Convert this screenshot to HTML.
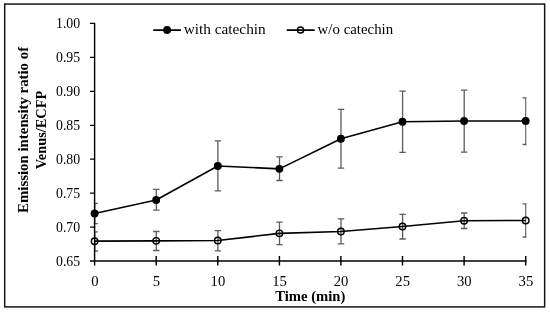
<!DOCTYPE html>
<html lang="en"><head><meta charset="utf-8"><title>Emission intensity ratio of Venus/ECFP</title>
<style>
html,body{margin:0;padding:0;background:#fff;}
body{width:550px;height:313px;overflow:hidden;}
svg{display:block;font-family:"Liberation Serif","DejaVu Serif",serif;font-size:14.67px;fill:#000;}
.b{font-weight:bold;}
</style></head><body>
<svg width="550" height="313" viewBox="0 0 550 313">
<rect x="0" y="0" width="550" height="313" fill="#fff"/>
<rect x="4.7" y="4.05" width="539.95" height="302.85" fill="none" stroke="#151515" stroke-width="1.5"/>
<defs><clipPath id="pa"><rect x="93.9" y="0" width="432.6" height="313"/></clipPath></defs>

<g stroke="#5c5c5c" stroke-width="1.3" fill="none" clip-path="url(#pa)">
<path d="M94.7 203.4V223.6M91.5 203.4H97.9M91.5 223.6H97.9"/>
<path d="M156.3 189.4V210.2M153.1 189.4H159.5M153.1 210.2H159.5"/>
<path d="M217.9 140.8V190.8M214.7 140.8H221.1M214.7 190.8H221.1"/>
<path d="M279.5 156.8V180.5M276.3 156.8H282.7M276.3 180.5H282.7"/>
<path d="M341.0 109.3V168.2M337.8 109.3H344.2M337.8 168.2H344.2"/>
<path d="M402.6 91.2V152.4M399.4 91.2H405.8M399.4 152.4H405.8"/>
<path d="M464.2 90.1V152.2M461.0 90.1H467.4M461.0 152.2H467.4"/>
<path d="M525.8 97.8V144.5M522.6 97.8H529.0M522.6 144.5H529.0"/>
<path d="M94.7 231.8V251.0M91.5 231.8H97.9M91.5 251.0H97.9"/>
<path d="M156.3 231.5V250.5M153.1 231.5H159.5M153.1 250.5H159.5"/>
<path d="M217.9 230.7V250.9M214.7 230.7H221.1M214.7 250.9H221.1"/>
<path d="M279.5 222.2V244.6M276.3 222.2H282.7M276.3 244.6H282.7"/>
<path d="M341.0 218.8V243.9M337.8 218.8H344.2M337.8 243.9H344.2"/>
<path d="M402.6 214.3V239.0M399.4 214.3H405.8M399.4 239.0H405.8"/>
<path d="M464.2 213.0V228.5M461.0 213.0H467.4M461.0 228.5H467.4"/>
<path d="M525.8 203.8V237.0M522.6 203.8H529.0M522.6 237.0H529.0"/>
</g>
<g stroke="#000" fill="none">
<path d="M94.6 22.8V265.6" stroke-width="1.45"/>
<path d="M90 260.95H526.4" stroke-width="1.5"/>
<path d="M90 227.1H94.6M90 193.2H94.6M90 159.2H94.6M90 125.3H94.6M90 91.3H94.6M90 57.4H94.6M90 23.4H94.6" stroke-width="1.3"/>
<path d="M156.2 256.1V265.6M217.8 256.1V265.6M279.4 256.1V265.6M340.9 256.1V265.6M402.5 256.1V265.6M464.1 256.1V265.6M525.7 256.1V265.6" stroke-width="1.45"/>
</g>
<polyline points="94.6,213.55 156.2,199.95 217.8,165.95 279.4,168.85 340.9,138.75 402.5,121.75 464.1,121.05 525.7,121.05" fill="none" stroke="#000" stroke-width="1.6" stroke-linejoin="round"/>
<polyline points="94.6,241.15 156.2,240.85 217.8,240.55 279.4,233.35 340.9,231.45 402.5,226.45 464.1,220.75 525.7,220.45" fill="none" stroke="#000" stroke-width="1.6" stroke-linejoin="round"/>
<circle cx="94.6" cy="213.55" r="3.95" fill="#000"/>
<circle cx="156.2" cy="199.95" r="3.95" fill="#000"/>
<circle cx="217.8" cy="165.95" r="3.95" fill="#000"/>
<circle cx="279.4" cy="168.85" r="3.95" fill="#000"/>
<circle cx="340.9" cy="138.75" r="3.95" fill="#000"/>
<circle cx="402.5" cy="121.75" r="3.95" fill="#000"/>
<circle cx="464.1" cy="121.05" r="3.95" fill="#000"/>
<circle cx="525.7" cy="121.05" r="3.95" fill="#000"/>
<circle cx="94.6" cy="241.15" r="3.25" fill="none" stroke="#000" stroke-width="1.45"/>
<circle cx="156.2" cy="240.85" r="3.25" fill="none" stroke="#000" stroke-width="1.45"/>
<circle cx="217.8" cy="240.55" r="3.25" fill="none" stroke="#000" stroke-width="1.45"/>
<circle cx="279.4" cy="233.35" r="3.25" fill="none" stroke="#000" stroke-width="1.45"/>
<circle cx="340.9" cy="231.45" r="3.25" fill="none" stroke="#000" stroke-width="1.45"/>
<circle cx="402.5" cy="226.45" r="3.25" fill="none" stroke="#000" stroke-width="1.45"/>
<circle cx="464.1" cy="220.75" r="3.25" fill="none" stroke="#000" stroke-width="1.45"/>
<circle cx="525.7" cy="220.45" r="3.25" fill="none" stroke="#000" stroke-width="1.45"/>
<path d="M153.2 30.05H181M286.7 30.05H314.7" stroke="#000" stroke-width="1.65" fill="none"/>
<circle cx="167.1" cy="30" r="3.95" fill="#000"/>
<circle cx="300.5" cy="30" r="3.1" fill="none" stroke="#000" stroke-width="1.5"/>
<text x="183.7" y="33.9" textLength="82" lengthAdjust="spacingAndGlyphs">with catechin</text>
<text x="317.6" y="33.9" textLength="75.6" lengthAdjust="spacingAndGlyphs">w/o catechin</text>
<text x="80.2" y="265.8" text-anchor="end" textLength="24.2" lengthAdjust="spacingAndGlyphs">0.65</text>
<text x="80.2" y="231.8" text-anchor="end" textLength="24.2" lengthAdjust="spacingAndGlyphs">0.70</text>
<text x="80.2" y="197.9" text-anchor="end" textLength="24.2" lengthAdjust="spacingAndGlyphs">0.75</text>
<text x="80.2" y="163.9" text-anchor="end" textLength="24.2" lengthAdjust="spacingAndGlyphs">0.80</text>
<text x="80.2" y="130.0" text-anchor="end" textLength="24.2" lengthAdjust="spacingAndGlyphs">0.85</text>
<text x="80.2" y="96.0" text-anchor="end" textLength="24.2" lengthAdjust="spacingAndGlyphs">0.90</text>
<text x="80.2" y="62.1" text-anchor="end" textLength="24.2" lengthAdjust="spacingAndGlyphs">0.95</text>
<text x="80.2" y="28.1" text-anchor="end" textLength="24.2" lengthAdjust="spacingAndGlyphs">1.00</text>
<text x="94.8" y="285.5" text-anchor="middle">0</text>
<text x="156.3" y="285.5" text-anchor="middle">5</text>
<text x="217.9" y="285.5" text-anchor="middle">10</text>
<text x="279.5" y="285.5" text-anchor="middle">15</text>
<text x="341.1" y="285.5" text-anchor="middle">20</text>
<text x="402.7" y="285.5" text-anchor="middle">25</text>
<text x="464.3" y="285.5" text-anchor="middle">30</text>
<text x="525.9" y="285.5" text-anchor="middle">35</text>
<text class="b" x="310.3" y="300.6" text-anchor="middle">Time (min)</text>
<text class="b" transform="translate(27.7 129.9) rotate(-90)" text-anchor="middle" textLength="166" lengthAdjust="spacingAndGlyphs">Emission intensity ratio of</text>
<text class="b" transform="translate(46.3 130) rotate(-90)" text-anchor="middle" textLength="78.6" lengthAdjust="spacingAndGlyphs">Venus/ECFP</text>
</svg></body></html>
